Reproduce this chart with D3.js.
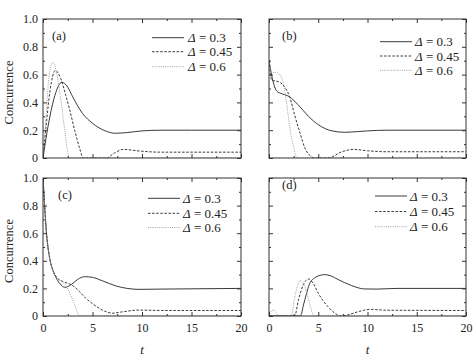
<!DOCTYPE html>
<html><head><meta charset="utf-8">
<script src="https://cdn.jsdelivr.net/npm/d3@7"></script>
</head>
<body style="margin:0;padding:0;background:#fff;">
<svg id="chart" width="474" height="358" style="display:block;font-family:'Liberation Serif';"></svg>
<script>
// ---------- data ----------
const seriesLabels = ["0.3", "0.45", "0.6"];
const panelLabels = ["(a)", "(b)", "(c)", "(d)"];
const xTicks = [0, 5, 10, 15, 20];
const xMinorTicks = [2.5, 7.5, 12.5, 17.5];
const yTicks = [0, 0.2, 0.4, 0.6, 0.8, 1.0];
const yMinorTicks = [0.1, 0.3, 0.5, 0.7, 0.9];

// panel (a)
const a03 = [[0,0],[0.3,0.14],[0.7,0.3],[1.2,0.45],[1.9,0.545],[2.5,0.51],[3,0.44],[4,0.32],[5,0.25],[6.3,0.195],[7.3,0.178],[8.5,0.183],[10,0.195],[12,0.2],[15,0.2],[20,0.2]];
const a045 = [[0,0],[0.3,0.22],[0.7,0.48],[1.25,0.63],[1.8,0.57],[2.3,0.45],[2.7,0.345],[3.2,0.2],[3.7,0.07],[4.07,0],[6.4,0],[7.2,0.035],[8.1,0.062],[9.5,0.052],[11.8,0.042],[20,0.042]];
const a06 = [[0,0],[0.3,0.3],[0.6,0.58],[1.0,0.69],[1.4,0.6],[1.8,0.42],[2.2,0.2],[2.65,0],[20,0]];

// panel (b)
const b03 = [[0,0.705],[0.2,0.62],[0.45,0.54],[0.8,0.48],[1.2,0.465],[1.6,0.455],[2.1,0.44],[2.5,0.415],[3,0.38],[4,0.3],[5,0.24],[6.4,0.195],[7.7,0.185],[9,0.19],[10,0.195],[12,0.2],[20,0.2]];
const b045 = [[0,0.7],[0.27,0.56],[0.6,0.555],[1.1,0.545],[1.6,0.51],[2.1,0.44],[2.6,0.31],[3.15,0.18],[3.65,0.07],[4.3,0.01],[4.6,0],[6.0,0],[7.4,0.045],[8.6,0.062],[10,0.052],[12,0.045],[20,0.045]];
const b06 = [[0,0.7],[0.15,0.64],[0.3,0.615],[0.6,0.617],[1.1,0.6],[1.45,0.54],[1.8,0.39],[2.1,0.225],[2.5,0.08],[2.85,0],[20,0]];

// panel (c)
const c03 = [[0,1.0],[0.1,0.88],[0.2,0.76],[0.35,0.6],[0.5,0.5],[0.7,0.41],[1.0,0.33],[1.3,0.28],[1.7,0.235],[2.2,0.208],[2.8,0.225],[3.5,0.265],[4.2,0.285],[5,0.28],[6,0.255],[7.4,0.217],[8.5,0.2],[9.7,0.193],[12,0.195],[20,0.2]];
const c045 = [[0,1.0],[0.1,0.88],[0.2,0.76],[0.35,0.6],[0.5,0.5],[0.7,0.41],[1.0,0.33],[1.4,0.28],[2.0,0.25],[2.6,0.235],[3.2,0.21],[3.7,0.176],[4.3,0.13],[5,0.09],[5.7,0.055],[6.4,0.03],[7,0.02],[8,0.03],[9.7,0.043],[12,0.04],[20,0.04]];
const c06 = [[0,1.0],[0.1,0.88],[0.2,0.76],[0.35,0.6],[0.5,0.5],[0.7,0.41],[1.0,0.33],[1.4,0.275],[2.0,0.245],[2.4,0.21],[2.8,0.15],[3.2,0.08],[3.7,0],[20,0]];

// panel (d)
const d03 = [[0,0],[3.2,0],[3.5,0.08],[3.8,0.16],[4.1,0.23],[4.6,0.275],[5.0,0.29],[5.65,0.30],[6.3,0.29],[7.0,0.265],[8.4,0.22],[9.7,0.196],[11,0.195],[13,0.2],[20,0.2]];
const d045 = [[0,0],[2.6,0],[3.0,0.12],[3.5,0.23],[4.0,0.268],[4.5,0.235],[5.0,0.165],[5.5,0.11],[6.0,0.067],[6.6,0.025],[7.3,0],[8.0,0.008],[9.0,0.03],[10.3,0.048],[12,0.042],[20,0.04]];
const d06 = [[0,0],[0.1,0.02],[0.3,0.04],[0.5,0.043],[0.7,0.03],[0.9,0],[2.25,0],[2.6,0.13],[2.9,0.22],[3.15,0.256],[3.5,0.24],[3.9,0.15],[4.2,0.07],[4.55,0],[20,0]];

// ---------- layout ----------
const FONT = "'Liberation Serif'";
const svg = d3.select("#chart");
const styles = [
  {stroke:"#3a3a3a", dash:null, width:1},
  {stroke:"#3a3a3a", dash:"2.5,1.6", width:1},
  {stroke:"#a0a0a0", dash:"1,1.2", width:1}
];
const panels = [
  {data:[a03,a045,a06], x0:43, x1:241, y0:19, y1:158, yLab:true, xLab:false,
   lab:[52,40], leg:{x0:152,x1:184,tx:188,ys:[37.7,51.7,66.7]}},
  {data:[b03,b045,b06], x0:269, x1:466, y0:19, y1:158, yLab:false, xLab:false,
   lab:[282,40], leg:{x0:380,x1:412,tx:415,ys:[41.7,56,70.3]}},
  {data:[c03,c045,c06], x0:43, x1:241, y0:178, y1:316, yLab:true, xLab:true,
   lab:[58,199], leg:{x0:148,x1:180,tx:183,ys:[198.3,213.3,227.5]}},
  {data:[d03,d045,d06], x0:269, x1:466, y0:178, y1:316, yLab:false, xLab:true,
   lab:[282,189], leg:{x0:375,x1:407,tx:410,ys:[196,211.5,226.7]}}
];

const fmtY = d => d === 0 ? "0" : d3.format(".1f")(d);
const txt = (sel, size) => sel.style("font-family", FONT).style("font-size", size + "px").attr("fill", "#222");

panels.forEach((p, i) => {
  const x = d3.scaleLinear().domain([0, 20]).range([p.x0, p.x1]);
  const y = d3.scaleLinear().domain([0, 1]).range([p.y1, p.y0]);
  const g = svg.append("g");

  // curves
  const line = d3.line().x(d => x(d[0])).y(d => y(d[1])).curve(d3.curveMonotoneX);
  const clipId = "clip" + i;
  svg.append("clipPath").attr("id", clipId).append("rect")
    .attr("x", p.x0).attr("y", p.y0 - 1).attr("width", p.x1 - p.x0).attr("height", p.y1 - p.y0 + 1);
  p.data.forEach((s, k) => {
    const path = g.append("path").datum(s).attr("d", line)
      .attr("clip-path", `url(#${clipId})`)
      .attr("fill", "none").attr("stroke", styles[k].stroke)
      .attr("stroke-width", styles[k].width);
    if (styles[k].dash) path.attr("stroke-dasharray", styles[k].dash);
  });

  // axes: ticks inward on all four sides
  const mk = (axis, pos, sel, size, vals, fmt, pad) => {
    const a = axis(sel).tickValues(vals).tickSizeInner(size).tickSizeOuter(0).tickPadding(pad);
    a.tickFormat(fmt === null ? () => "" : fmt);
    const ag = g.append("g").attr("transform", pos).call(a);
    ag.attr("font-family", "Liberation Serif");
    ag.select(".domain").remove();
    ag.selectAll("line").attr("stroke", "#333");
    txt(ag.selectAll("text"), 12);
    return ag;
  };
  mk(d3.axisBottom, `translate(0,${p.y1})`, x, -4, xTicks, p.xLab ? d3.format("d") : null, 7);
  mk(d3.axisBottom, `translate(0,${p.y1})`, x, -2, xMinorTicks, null, 3);
  mk(d3.axisTop, `translate(0,${p.y0})`, x, -4, xTicks, null, 3);
  mk(d3.axisTop, `translate(0,${p.y0})`, x, -2, xMinorTicks, null, 3);
  mk(d3.axisLeft, `translate(${p.x0},0)`, y, -4, yTicks, p.yLab ? fmtY : null, 5);
  mk(d3.axisLeft, `translate(${p.x0},0)`, y, -2, yMinorTicks, null, 3);
  mk(d3.axisRight, `translate(${p.x1},0)`, y, -4, yTicks, null, 3);
  mk(d3.axisRight, `translate(${p.x1},0)`, y, -2, yMinorTicks, null, 3);

  // frame
  g.append("rect").attr("x", p.x0).attr("y", p.y0)
    .attr("width", p.x1 - p.x0).attr("height", p.y1 - p.y0)
    .attr("fill", "none").attr("stroke", "#333").attr("stroke-width", 1);

  // panel label
  txt(g.append("text").attr("x", p.lab[0]).attr("y", p.lab[1]), 12.5).text(panelLabels[i]);

  // legend
  seriesLabels.forEach((lbl, k) => {
    const yy = p.leg.ys[k];
    const ln = g.append("line").attr("x1", p.leg.x0).attr("x2", p.leg.x1).attr("y1", yy).attr("y2", yy)
      .attr("stroke", styles[k].stroke).attr("stroke-width", styles[k].width);
    if (styles[k].dash) ln.attr("stroke-dasharray", styles[k].dash);
    const t = txt(g.append("text").attr("x", p.leg.tx).attr("y", yy).attr("dy", "0.35em"), 13);
    t.append("tspan").style("font-style", "italic").text("Δ");
    t.append("tspan").text(" = " + lbl);
  });

  // y label
  if (p.yLab) {
    txt(g.append("text")
      .attr("transform", `translate(13,${(p.y0 + p.y1) / 2 + 4}) rotate(-90)`)
      .attr("text-anchor", "middle"), 12.5)
      .text("Concurrence");
  }
  // x label
  if (p.xLab) {
    txt(g.append("text").attr("x", (p.x0 + p.x1) / 2).attr("y", 354)
      .attr("text-anchor", "middle"), 13).style("font-style", "italic")
      .text("t");
  }
});
</script>
</body></html>
